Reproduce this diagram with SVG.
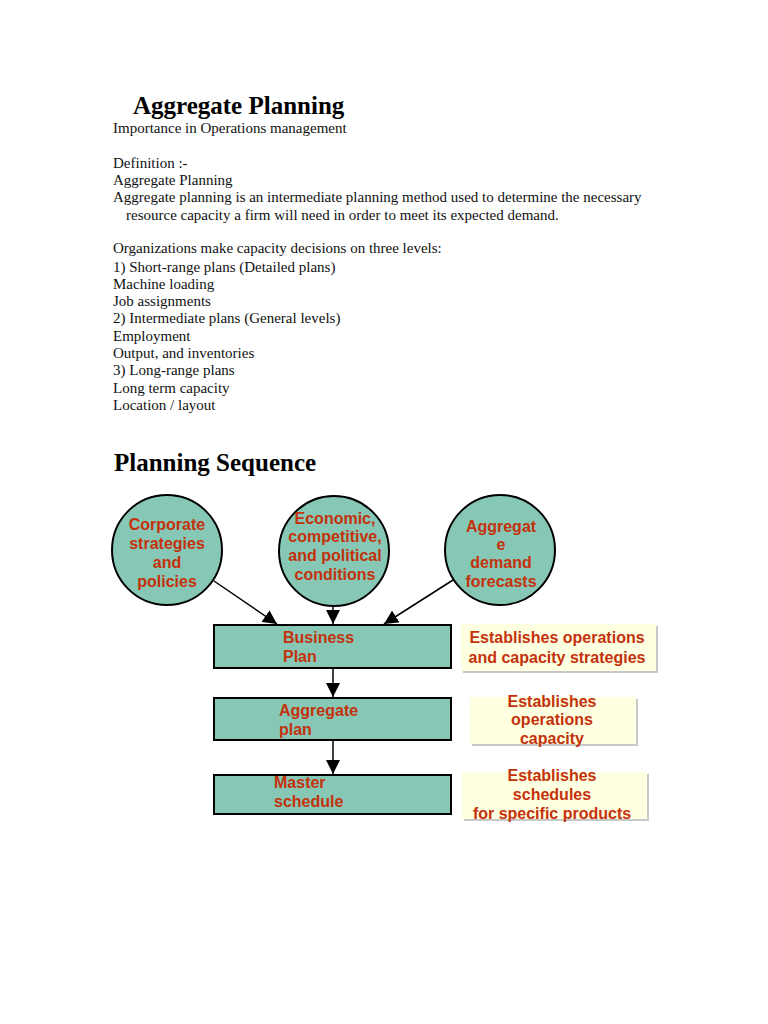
<svg xmlns="http://www.w3.org/2000/svg" width="768" height="1024" viewBox="0 0 768 1024">
<style>
.t{font-family:"Liberation Serif","Times New Roman",serif;font-size:15px;fill:#111}
.h{font-family:"Liberation Serif","Times New Roman",serif;font-size:25px;font-weight:bold;fill:#000}
.n{fill:#86C7B6;stroke:#000;stroke-width:2}
.lb{font-family:"Liberation Sans",Arial,sans-serif;font-size:16px;font-weight:bold;fill:#C4320C}
.c{text-anchor:middle}
.note{fill:#FFFFE1}
.sh{fill:#C8C8C8}
.e{stroke:#000;stroke-width:1.5;fill:none;marker-end:url(#ah)}
</style>
<defs>
<marker id="ah" viewBox="0 0 10 10" refX="10" refY="5" markerWidth="14" markerHeight="14" markerUnits="userSpaceOnUse" orient="auto">
<path d="M0,0 L10,5 L0,10 z" fill="#000"/>
</marker>
</defs>
<rect width="768" height="1024" fill="#fff"/>
<text class="h" x="133" y="114">Aggregate Planning</text>
<text class="t" x="113" y="133">Importance in Operations management</text>
<text class="t" x="113" y="168">Definition :-</text>
<text class="t" x="113" y="185">Aggregate Planning</text>
<text class="t" x="113" y="202">Aggregate planning is an intermediate planning method used to determine the necessary</text>
<text class="t" x="126" y="220">resource capacity a firm will need in order to meet its expected demand.</text>
<text class="t" x="113" y="253">Organizations make capacity decisions on three levels:</text>
<text class="t" x="113" y="272">1) Short-range plans (Detailed plans)</text>
<text class="t" x="113" y="289">Machine loading</text>
<text class="t" x="113" y="306">Job assignments</text>
<text class="t" x="113" y="323">2) Intermediate plans (General levels)</text>
<text class="t" x="113" y="341">Employment</text>
<text class="t" x="113" y="358">Output, and inventories</text>
<text class="t" x="113" y="375">3) Long-range plans</text>
<text class="t" x="113" y="393">Long term capacity</text>
<text class="t" x="113" y="410">Location / layout</text>
<text class="h" x="114" y="471">Planning Sequence</text>

<g id="edges">
<line class="e" x1="214" y1="581" x2="277" y2="624"/>
<line class="e" x1="333" y1="606" x2="333" y2="624"/>
<line class="e" x1="453" y1="580" x2="384" y2="624"/>
<line class="e" x1="333" y1="668" x2="333" y2="697"/>
<line class="e" x1="333" y1="740" x2="333" y2="774"/>
</g>

<g id="corporate">
<circle class="n" cx="167" cy="550" r="55"/>
<text class="lb c" x="167" y="530">Corporate</text>
<text class="lb c" x="167" y="549">strategies</text>
<text class="lb c" x="167" y="568">and</text>
<text class="lb c" x="167" y="587">policies</text>
</g>
<g id="economic">
<circle class="n" cx="334" cy="551" r="55"/>
<text class="lb c" x="335" y="524">Economic,</text>
<text class="lb c" x="335" y="542">competitive,</text>
<text class="lb c" x="335" y="561">and political</text>
<text class="lb c" x="335" y="580">conditions</text>
</g>
<g id="demand">
<circle class="n" cx="500" cy="550" r="55"/>
<text class="lb c" x="501" y="532">Aggregat</text>
<text class="lb c" x="501" y="550">e</text>
<text class="lb c" x="501" y="568">demand</text>
<text class="lb c" x="501" y="587">forecasts</text>
</g>

<g id="business">
<rect class="n" x="214" y="625" width="237" height="43"/>
<text class="lb" x="283" y="643">Business</text>
<text class="lb" x="283" y="662">Plan</text>
</g>
<g id="aggregate">
<rect class="n" x="214" y="698" width="237" height="42"/>
<text class="lb" x="279" y="716">Aggregate</text>
<text class="lb" x="279" y="735">plan</text>
</g>
<g id="master">
<rect class="n" x="214" y="775" width="237" height="39"/>
<text class="lb" x="274" y="788">Master</text>
<text class="lb" x="274" y="807">schedule</text>
</g>

<g id="note1">
<rect class="sh" x="463" y="626" width="195" height="47"/>
<rect class="note" x="461" y="624" width="195" height="47"/>
<text class="lb c" x="557" y="643">Establishes operations</text>
<text class="lb c" x="557" y="663">and capacity strategies</text>
</g>
<g id="note2">
<rect class="sh" x="472" y="699" width="166" height="47"/>
<rect class="note" x="470" y="697" width="166" height="47"/>
<text class="lb c" x="552" y="707">Establishes</text>
<text class="lb c" x="552" y="725">operations</text>
<text class="lb c" x="552" y="744">capacity</text>
</g>
<g id="note3">
<rect class="sh" x="464" y="774" width="185" height="47"/>
<rect class="note" x="462" y="772" width="185" height="47"/>
<text class="lb c" x="552" y="781">Establishes</text>
<text class="lb c" x="552" y="800">schedules</text>
<text class="lb c" x="552" y="819">for specific products</text>
</g>
</svg>
